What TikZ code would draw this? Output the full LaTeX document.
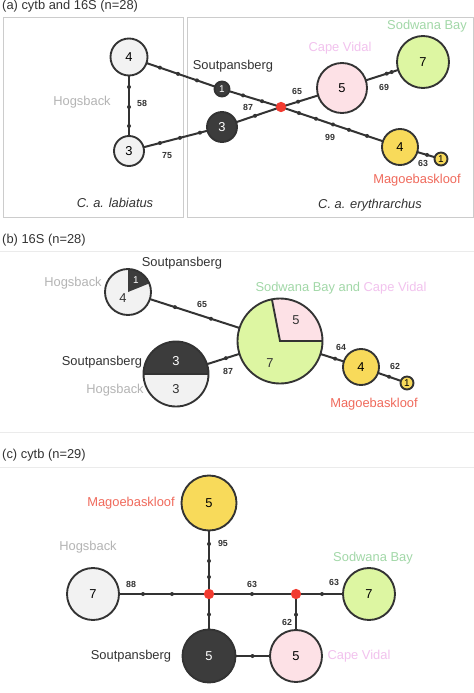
\documentclass[tikz,border=0pt]{standalone}
\usepackage{fontspec}
\setmainfont{Liberation Sans}
\pgfdeclarelayer{bgl}
\pgfdeclarelayer{edges}
\pgfdeclarelayer{fills}
\pgfsetlayers{bgl,edges,fills,main}
\definecolor{linec}{HTML}{333333}
\definecolor{lightf}{HTML}{F2F2F2}
\definecolor{darkf}{HTML}{3C3C3C}
\definecolor{pinkf}{HTML}{FDE1E6}
\definecolor{greenf}{HTML}{DDF6A2}
\definecolor{yellowf}{HTML}{F8DA5A}
\definecolor{redc}{HTML}{F23B30}
\definecolor{hogc}{HTML}{B4B4B4}
\definecolor{cvc}{HTML}{F2C2EE}
\definecolor{sodc}{HTML}{A2D8A8}
\definecolor{magc}{HTML}{F06A5C}
\definecolor{boxc}{HTML}{CCCCCC}
\definecolor{faintc}{HTML}{EBEBEB}
\tikzset{
  hap/.style={circle,draw=linec,line width=1.6pt,minimum size=#1*0.06cm,inner sep=0pt,font=\fontsize{11}{13}\selectfont},
  medv/.style={circle,fill=redc,minimum size=0.31cm,inner sep=0pt},
  mut/.style={circle,fill=linec,inner sep=0pt,minimum size=0.12cm},
  link/.style={draw=linec,line width=1.7pt},
  lab/.style={font=\fontsize{11}{13}\selectfont,inner sep=0pt},
  num/.style={font=\fontsize{7.5}{9}\selectfont\bfseries,text=linec,inner sep=0pt},
  ttl/.style={font=\fontsize{11}{13}\selectfont,anchor=base west,inner sep=0pt,text=linec},
  smallnum/.style={font=\fontsize{8.5}{10}\selectfont},
}
\begin{document}
\begin{tikzpicture}[x=0.03cm,y=-0.03cm]
\useasboundingbox (0,0) rectangle (474,693);
\begin{pgfonlayer}{bgl}
\fill[white] (0,0) rectangle (474,693);
\draw[boxc,line width=0.6pt] (3,17) rectangle (183,217);
\draw[boxc,line width=0.6pt] (187,17) rectangle (473,217);
\draw[faintc,line width=0.6pt] (0,251) -- (474,251);
\draw[faintc,line width=0.6pt] (0,432) -- (474,432);
\draw[faintc,line width=0.6pt] (0,467) -- (474,467);
\end{pgfonlayer}

% ---------- panel (a)
\node[ttl] (ta) at (2,9) {(a) cytb and 16S (n=28)};
\node[hap=18.5,fill=lightf] (a4) at (129,57) {4};
\node[hap=15,fill=lightf] (a3) at (129,151) {3};
\node[hap=7.5,fill=darkf,text=white,smallnum] (a1) at (222,89) {1};
\node[hap=15,fill=darkf,text=white] (ad3) at (222,127) {3};
\node[medv] (ar) at (281,107) {};
\node[hap=25,fill=pinkf] (acv) at (342,88) {5};
\node[hap=26,fill=greenf] (asb) at (423,62) {7};
\node[hap=18,fill=yellowf] (am4) at (400,147) {4};
\node[hap=6.5,fill=yellowf,smallnum] (am1) at (441,159) {1};
\begin{pgfonlayer}{edges}
\path[link] (a4.center) -- (a3.center)
  node[mut,pos=0.319]{} node[mut,pos=0.532]{} node[mut,pos=0.734]{};
\path[link] (a4.center) -- (a1.center)
  node[mut,pos=0.333]{} node[mut,pos=0.527]{} node[mut,pos=0.731]{};
\path[link] (a1.center) -- (ar.center)
  node[mut,pos=0.356]{} node[mut,pos=0.678]{};
\path[link] (a3.center) -- (ad3.center)
  node[mut,pos=0.333]{} node[mut,pos=0.548]{} node[mut,pos=0.763]{};
\path[link] (ad3.center) -- (ar.center) node[mut,pos=0.56]{};
\path[link] (ar.center) -- (acv.center) node[mut,pos=0.28]{};
\path[link] (acv.center) -- (asb.center) node[mut,pos=0.552]{} node[mut,pos=0.613]{};
\path[link] (ar.center) -- (am4.center)
  node[mut,pos=0.151]{} node[mut,pos=0.294]{} node[mut,pos=0.437]{}
  node[mut,pos=0.571]{} node[mut,pos=0.723]{};
\path[link] (am4.center) -- (am1.center) node[mut,pos=0.66]{};
\end{pgfonlayer}
\node[lab,text=hogc] (la1) at (82,102) {Hogsback};
\node[num] (n58) at (142,103) {58};
\node[num] (n75) at (167,156) {75};
\node[lab,text=linec] (la2) at (233,66) {Soutpansberg};
\node[num] (n87a) at (248,107) {87};
\node[num] (n65a) at (297,91) {65};
\node[lab,text=cvc] (la3) at (340,48) {Cape Vidal};
\node[lab,text=sodc] (la4) at (427,26) {Sodwana Bay};
\node[num] (n69) at (384,87) {69};
\node[num] (n99) at (330,137) {99};
\node[num] (n63a) at (423,163) {63};
\node[lab,text=magc] (la5) at (417,180) {Magoebaskloof};
\node[lab,text=linec,font=\fontsize{11}{13}\selectfont\itshape] (la6) at (115,203) {C. a. labiatus};
\node[lab,text=linec,font=\fontsize{11}{13}\selectfont\itshape] (la7) at (370,205) {C. a. erythrarchus};

% ---------- panel (b)
\node[ttl] (tb) at (2,243) {(b) 16S (n=28)};
\node[hap=23] (bp) at (128,292) {};
\node[hap=42.5] (bb) at (280,341) {};
\node[hap=32.5] (bh) at (176,374) {};
\node[hap=18,fill=yellowf] (bm4) at (361,367) {4};
\node[hap=6.5,fill=yellowf,smallnum] (bm1) at (407,383) {1};
\begin{pgfonlayer}{edges}
\path[link] (bp.center) -- (bb.center) node[mut,pos=0.309]{} node[mut,pos=0.546]{};
\path[link] (bh.center) -- (bb.center) node[mut,pos=0.48]{};
\path[link] (bb.center) -- (bm4.center) node[mut,pos=0.68]{};
\path[link] (bm4.center) -- (bm1.center) node[mut,pos=0.61]{};
\end{pgfonlayer}
\begin{pgfonlayer}{fills}
\fill[lightf] (bp.center) circle[radius=0.69cm];
\fill[darkf] (bp.center) -- ([shift={(90:0.69cm)}]bp.center) arc[start angle=90,end angle=22,radius=0.69cm] -- cycle;
\fill[greenf] (bb.center) circle[radius=1.275cm];
\fill[pinkf] (bb.center) -- ([shift={(101:1.275cm)}]bb.center) arc[start angle=101,end angle=0,radius=1.275cm] -- cycle;
\draw[linec,line width=1.6pt] ([shift={(101:1.275cm)}]bb.center) -- (bb.center) -- ([shift={(0:1.275cm)}]bb.center);
\fill[lightf] (bh.center) circle[radius=0.975cm];
\fill[darkf] ([shift={(180:0.975cm)}]bh.center) arc[start angle=180,end angle=0,radius=0.975cm] -- cycle;
\draw[linec,line width=1.6pt] ([shift={(180:0.975cm)}]bh.center) -- ([shift={(0:0.975cm)}]bh.center);
\end{pgfonlayer}
\node[lab,text=white,smallnum] (bt1) at (136,280) {1};
\node[lab,text=linec] (bt4) at (123,298) {4};
\node[lab,text=linec] (bt5) at (296,320) {5};
\node[lab,text=linec] (bt7) at (270,363) {7};
\node[lab,text=white] (bt3a) at (176,361) {3};
\node[lab,text=linec] (bt3b) at (176,389) {3};
\node[lab,text=linec] (lb1) at (182,263) {Soutpansberg};
\node[lab,text=hogc] (lb2) at (73,283) {Hogsback};
\node[num] (n65b) at (202,304) {65};
\node[lab] (lb3) at (341,288) {\textcolor{sodc}{Sodwana Bay and }\textcolor{cvc}{Cape Vidal}};
\node[lab,text=linec] (lb4) at (102,362) {Soutpansberg};
\node[lab,text=hogc] (lb5) at (115,390) {Hogsback};
\node[num] (n87b) at (228,371) {87};
\node[num] (n64) at (341,347) {64};
\node[num] (n62b) at (395,366) {62};
\node[lab,text=magc] (lb6) at (374,404) {Magoebaskloof};

% ---------- panel (c)
\node[ttl] (tc) at (2,458) {(c) cytb (n=29)};
\node[hap=27.5,fill=yellowf] (cm) at (209,503) {5};
\node[hap=26,fill=lightf] (ch) at (93,594) {7};
\node[medv] (cr1) at (209,594) {};
\node[medv] (cr2) at (296,594) {};
\node[hap=26.5,fill=darkf,text=white] (cs) at (209,656) {5};
\node[hap=26,fill=greenf] (csb) at (369,594) {7};
\node[hap=26,fill=pinkf] (ccv) at (296,656) {5};
\begin{pgfonlayer}{edges}
\path[link] (cm.center) -- (cr1.center)
  node[mut,pos=0.45]{} node[mut,pos=0.637]{} node[mut,pos=0.813]{};
\path[link] (ch.center) -- (cr1.center) node[mut,pos=0.431]{} node[mut,pos=0.681]{};
\path[link] (cr1.center) -- (cs.center) node[mut,pos=0.33]{};
\path[link] (cr1.center) -- (cr2.center) node[mut,pos=0.494]{};
\path[link] (cr2.center) -- (csb.center) node[mut,pos=0.356]{};
\path[link] (cr2.center) -- (ccv.center) node[mut,pos=0.333]{};
\path[link] (cs.center) -- (ccv.center) node[mut,pos=0.5]{};
\end{pgfonlayer}
\node[lab,text=magc] (lc1) at (131,503) {Magoebaskloof};
\node[num] (n95) at (223,543) {95};
\node[lab,text=hogc] (lc2) at (88,547) {Hogsback};
\node[num] (n88) at (131,584) {88};
\node[lab,text=linec] (lc3) at (131,656) {Soutpansberg};
\node[num] (n63b) at (252,584) {63};
\node[num] (n63c) at (334,582) {63};
\node[lab,text=sodc] (lc4) at (373,558) {Sodwana Bay};
\node[num] (n62c) at (287,622) {62};
\node[lab,text=cvc] (lc5) at (359,656) {Cape Vidal};
\end{tikzpicture}
\end{document}
